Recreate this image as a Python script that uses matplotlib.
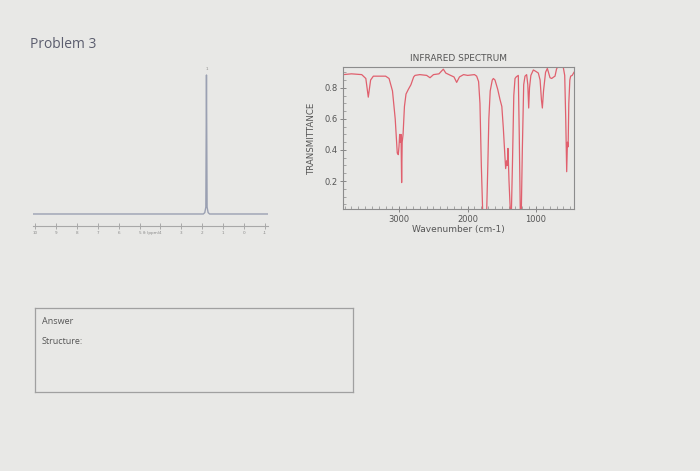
import matplotlib
matplotlib.use("Agg")
import matplotlib.pyplot as plt
from matplotlib.ticker import MultipleLocator

# ---------------- data ----------------
# 1H NMR spectrum (ppm, relative intensity)
nmr_ppm = [10.1, 1.95, 1.88, 1.83, 1.80, 1.77, 1.72, 1.65, -1.15]
nmr_int = [0.0, 0.0, 0.01, 0.05, 1.0, 0.05, 0.01, 0.0, 0.0]
nmr_ticks = [10, 9, 8, 7, 6, 5, 4, 3, 2, 1, 0, -1]
nmr_peak_label = "1"

# IR spectrum (wavenumber cm-1, transmittance)
ir_wn = [3824, 3700, 3550, 3490, 3454, 3420, 3380, 3300, 3200, 3150, 3100,
         3060, 3030, 3015, 3005, 2995, 2985, 2975, 2966, 2958, 2945, 2925,
         2902, 2868, 2830, 2790, 2770, 2700, 2600, 2551, 2500, 2420, 2356,
         2320, 2250, 2200, 2161, 2120, 2060, 2000, 1900, 1868, 1840, 1820,
         1800, 1780, 1722, 1705, 1690, 1670, 1640, 1624, 1600, 1560, 1527,
         1500, 1478, 1455, 1444, 1430, 1420, 1410, 1395, 1375, 1360, 1345,
         1325, 1307, 1290, 1259, 1245, 1230, 1215, 1200, 1180, 1161, 1137,
         1120, 1107, 1095, 1075, 1039, 1000, 966, 940, 920, 907, 890, 860,
         834, 795, 771, 740, 722, 700, 673, 640, 600, 580, 565, 551, 540,
         530, 520, 505, 493, 470, 444]
ir_t = [0.885, 0.89, 0.885, 0.86, 0.74, 0.85, 0.875, 0.875, 0.875, 0.86, 0.78,
        0.60, 0.38, 0.37, 0.42, 0.50, 0.45, 0.50, 0.19, 0.45, 0.50, 0.68,
        0.76, 0.79, 0.82, 0.87, 0.88, 0.885, 0.88, 0.865, 0.885, 0.89, 0.92,
        0.895, 0.88, 0.87, 0.835, 0.87, 0.885, 0.88, 0.885, 0.875, 0.84, 0.70,
        0.30, 0.0, 0.0, 0.30, 0.60, 0.78, 0.85, 0.86, 0.85, 0.79, 0.725,
        0.68, 0.54, 0.36, 0.28, 0.33, 0.30, 0.41, 0.20, 0.0, 0.0, 0.30,
        0.75, 0.86, 0.87, 0.88, 0.50, 0.0, 0.0, 0.40, 0.82, 0.875, 0.885,
        0.82, 0.67, 0.80, 0.88, 0.915, 0.905, 0.895, 0.85, 0.72, 0.67, 0.78, 0.90,
        0.925, 0.865, 0.86, 0.87, 0.875, 0.92, 0.945, 0.935, 0.93, 0.88, 0.60, 0.26, 0.45,
        0.42, 0.70, 0.85, 0.875, 0.88, 0.90]
ir_yticks = [0.2, 0.4, 0.6, 0.8]
ir_xticks = [3000, 2000, 1000]

# ---------------- layout helpers ----------------
W, H = 700, 471
BG = "#e8e8e6"

def rect(l, t, r, b):
    return [l / W, 1 - b / H, (r - l) / W, (b - t) / H]

fig = plt.figure(figsize=(7, 4.71), dpi=100, facecolor=BG)

fig.text(30 / W, 1 - 45 / H, "Problem 3", fontsize=10, color="#5b5d6e",
         family="Open Sans", va="center", ha="left")

# ---------------- NMR panel ----------------
ax1 = fig.add_axes(rect(33, 72, 268, 216))
ax1.set_facecolor("none")
ax1.plot(nmr_ppm, nmr_int, color="#9aa0b2", lw=1.0)
ax1.set_xlim(10.096, -1.143)
ax1.set_ylim(-0.0144, 1.0216)
for s in ["top", "left", "right"]:
    ax1.spines[s].set_visible(False)
ax1.spines["bottom"].set_position(("outward", 7.2))
ax1.spines["bottom"].set_color("#a8a8a8")
ax1.spines["bottom"].set_linewidth(0.8)
ax1.set_xticks(nmr_ticks)
ax1.set_xticklabels([str(t) for t in nmr_ticks])
ax1.tick_params(axis="x", direction="inout", length=4, width=0.6,
                colors="#a0a0a0", labelsize=3, pad=1.5, labelcolor="#8a8a8a")
ax1.set_yticks([])
ax1.text(4.45, -0.118, "δ (ppm)", transform=ax1.get_xaxis_transform(),
         fontsize=3, color="#8a8a8a", ha="center", va="center")
ax1.text(1.8, 1.03, nmr_peak_label, fontsize=3, color="#8a8a8a",
         ha="center", va="bottom", clip_on=False)

# ---------------- IR panel ----------------
ax2 = fig.add_axes(rect(343, 67, 574, 209))
ax2.set_facecolor("none")
ax2.plot(ir_wn, ir_t, color="#e0606e", lw=0.9)
ax2.set_xlim(3824, 444)
ax2.set_ylim(0.02, 0.934)
ax2.set_xticks(ir_xticks)
ax2.set_yticks(ir_yticks)
ax2.set_yticklabels([f"{v:.1f}" for v in ir_yticks])
ax2.xaxis.set_minor_locator(MultipleLocator(100))
ax2.yaxis.set_minor_locator(MultipleLocator(0.05))
for s in ax2.spines.values():
    s.set_color("#8c8c8c")
    s.set_linewidth(0.8)
ax2.tick_params(which="major", direction="inout", length=4, width=0.6,
                colors="#777777", labelsize=6, pad=2, labelcolor="#555555")
ax2.tick_params(which="minor", direction="in", length=2, width=0.5,
                colors="#888888")
ax2.set_title("INFRARED SPECTRUM", fontsize=6.5, color="#555555", pad=4)
ax2.set_xlabel("Wavenumber (cm-1)", fontsize=6.5, color="#555555", labelpad=1)
ax2.set_ylabel("TRANSMITTANCE", fontsize=6.2, color="#555555", labelpad=6)

# ---------------- Answer box ----------------
ax3 = fig.add_axes(rect(35, 308, 353, 392))
ax3.set_facecolor("none")
ax3.set_xticks([])
ax3.set_yticks([])
for s in ax3.spines.values():
    s.set_color("#a0a0a0")
    s.set_linewidth(0.9)
fig.text(42 / W, 1 - 322 / H, "Answer", fontsize=6.5, color="#555555",
         family="Open Sans", va="center", ha="left")
fig.text(42 / W, 1 - 341 / H, "Structure:", fontsize=6.5, color="#555555",
         family="Open Sans", va="center", ha="left")

fig.savefig("out.png", dpi=100, facecolor=BG)
